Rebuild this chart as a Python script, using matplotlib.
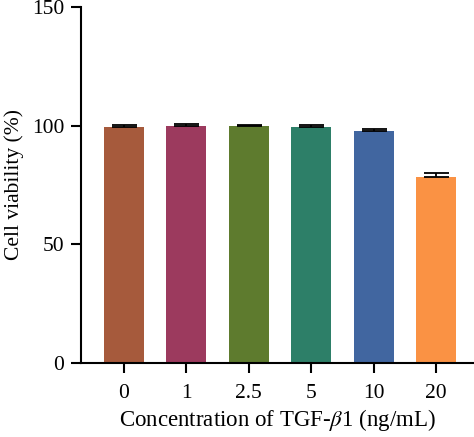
import matplotlib
matplotlib.use('Agg')
import matplotlib.pyplot as plt

# Cell viability vs TGF-beta1 concentration
concentrations = ['0', '1', '2.5', '5', '10', '20']
viability = [99.4, 99.7, 99.7, 99.4, 97.6, 78.4]
errors = [0.7, 1.1, 0.7, 1.0, 1.1, 1.8]
colors = ['#A65A3C', '#9C3A5E', '#5E7B2E', '#2D7F68', '#4166A0', '#FA9244']

plt.rcParams['font.family'] = ['Liberation Serif', 'DejaVu Serif']
plt.rcParams['mathtext.fontset'] = 'stix'

fig = plt.figure(figsize=(4.74, 4.37), dpi=100)
ax = fig.add_axes([81 / 474, 74 / 437, 1 - 81 / 474, (363 - 7) / 437])

x = range(len(concentrations))
ax.bar(x, viability, width=0.64, color=colors)
ax.errorbar(x, viability, yerr=[[0] * len(errors), errors], fmt='none',
            ecolor='black', elinewidth=1.3, capsize=9, capthick=1.3)

ax.set_ylim(0, 150)
ax.set_xlim(-0.69, 5.61)
ax.set_yticks([0, 50, 100, 150])
ax.set_xticks(list(x))
ax.set_xticklabels(concentrations)
ax.spines['top'].set_visible(False)
ax.spines['right'].set_visible(False)
ax.spines['left'].set_linewidth(1.5)
ax.spines['bottom'].set_linewidth(1.5)
ax.tick_params(direction='out', length=7, width=1.5, labelsize=15.5)
ax.tick_params(axis='x', pad=8)
ax.tick_params(axis='y', pad=5)

ax.set_xlabel(r'Concentration of TGF-$\beta$1 (ng/mL)', fontsize=16.5, labelpad=3)
ax.set_ylabel('Cell viability (%)', fontsize=15.5, labelpad=6)

fig.savefig('out.png', dpi=100)
